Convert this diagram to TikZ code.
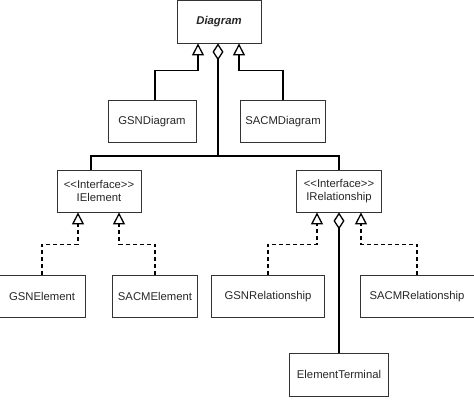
\documentclass[tikz,border=0pt]{standalone}
\usepackage{fontspec}
\setmainfont{Liberation Sans}
\usetikzlibrary{arrows.meta,calc}
\tikzset{
  box/.style={draw=black!80, line width=0.8pt, rectangle, inner sep=0pt, align=center,
    font=\fontsize{11.3}{13.5}\selectfont, text=black!85},
  conn/.style={line width=1.5pt, black},
  inh/.style={conn, -{Triangle[open, length=12pt, width=12pt, line width=1.3pt]}},
  real/.style={inh, dash pattern=on 4pt off 3pt},
  agg/.style={conn, -{Diamond[open, length=17pt, width=11pt, line width=1.3pt]}},
}
\begin{document}
\begin{tikzpicture}[x=1pt,y=-1pt]
\useasboundingbox (0,0) rectangle (474,412);
\node[box, minimum width=84pt, minimum height=43pt] (diag) at (219,21.5) {\textbf{\textit{Diagram}}};
\node[box, minimum width=88pt, minimum height=42pt] (gsnd) at (152,121.5) {GSNDiagram};
\node[box, minimum width=85pt, minimum height=42pt] (sacmd) at (283,121.5) {SACMDiagram};
\node[box, minimum width=84pt, minimum height=42pt] (ielem) at (99,191) {{<}{<}Interface{>}{>}\\IElement};
\node[box, minimum width=85pt, minimum height=42pt] (irel) at (339,191) {{<}{<}Interface{>}{>}\\IRelationship};
\node[box, minimum width=86pt, minimum height=42pt] (gsne) at (42,296.5) {GSNElement};
\node[box, minimum width=85pt, minimum height=42pt] (sacme) at (155,296.5) {SACMElement};
\node[box, minimum width=113pt, minimum height=42pt] (gsnr) at (268,296.5) {GSNRelationship};
\node[box, minimum width=114pt, minimum height=42pt] (sacmr) at (417,296.5) {SACMRelationship};
\node[box, minimum width=99pt, minimum height=43pt] (elt) at (339,374.5) {ElementTerminal};
\coordinate (hub) at (218,156);
% generalisation to Diagram
\draw[inh] ($(gsnd.north)+(3,0)$) |- ($(diag.south)+(-21,27)$) -- ($(diag.south)+(-21,0)$);
\draw[inh] (sacmd.north) |- ($(diag.south)+(20,27)$) -- ($(diag.south)+(20,0)$);
% aggregation
\draw[conn] ($(ielem.north)+(-8,0)$) |- (hub) -| (irel.north);
\draw[agg] (hub) -- (hub |- diag.south);
% realisations
\draw[real] (gsne.north) |- ($(ielem.south)+(-21,32)$) -- ($(ielem.south)+(-21,0)$);
\draw[real] (sacme.north) |- ($(ielem.south)+(20,32)$) -- ($(ielem.south)+(20,0)$);
\draw[real] (gsnr.north) |- ($(irel.south)+(-22,32)$) -- ($(irel.south)+(-22,0)$);
\draw[real] (sacmr.north) |- ($(irel.south)+(22,32)$) -- ($(irel.south)+(22,0)$);
\draw[agg] (elt.north) -- (irel.south);
\end{tikzpicture}
\end{document}
